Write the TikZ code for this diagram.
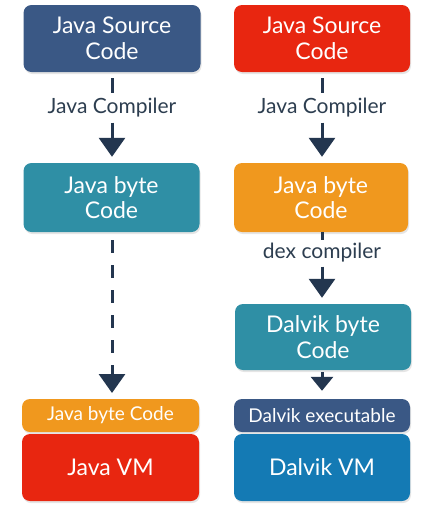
\documentclass[tikz,border=0pt]{standalone}
\usepackage{fontspec}
\setmainfont{Lato}
\usetikzlibrary{arrows.meta,shadows}
\definecolor{dblue}{RGB}{58,88,133}
\definecolor{jred}{RGB}{232,38,16}
\definecolor{teal1}{RGB}{47,143,165}
\definecolor{orng}{RGB}{240,152,30}
\definecolor{vblue}{RGB}{20,122,180}
\definecolor{arr}{RGB}{35,54,79}
\definecolor{lbl}{RGB}{45,62,80}
\begin{document}
\begin{tikzpicture}[x=1pt,y=-1pt,
  box/.style={rounded corners=8pt, text=white, align=center, inner sep=0pt,
    font=\fontsize{23}{25.5}\selectfont,
    drop shadow={opacity=0.2, shadow xshift=1pt, shadow yshift=-2pt}},
  smallbox/.style={box, font=\fontsize{19}{21}\selectfont},
  lab/.style={text=lbl, font=\fontsize{21}{24}\selectfont, inner sep=1pt},
  conn/.style={draw=arr, line width=3pt},
  tip/.style={-{Triangle[width=26pt,length=19pt]}},
  smalltip/.style={-{Triangle[width=22pt,length=14pt]}}]
\useasboundingbox (0,0) rectangle (426,531);
\fill[white] (0,0) rectangle (426,531);
% left column
\node[box, fill=dblue, minimum width=177pt, minimum height=67pt] (jscL) at (112,38.5) {Java Source\\Code};
\node[lab] (lblL) at (112,108) {Java Compiler};
\node[box, fill=teal1, minimum width=176pt, minimum height=69pt] (jbcL) at (111.5,197.5) {Java byte\\Code};
\node[smallbox, fill=orng, minimum width=177pt, minimum height=33pt] (jbsL) at (110.5,415.5) {Java byte Code};
\node[box, fill=jred, minimum width=177pt, minimum height=67pt] (jvm) at (110.5,467.5) {Java VM};
% right column
\node[box, fill=jred, minimum width=176pt, minimum height=67pt] (jscR) at (322,38.5) {Java Source\\Code};
\node[lab] (lblR) at (322,108) {Java Compiler};
\node[box, fill=orng, minimum width=174pt, minimum height=69pt] (jbcR) at (321,197.5) {Java byte\\Code};
\node[lab] (dex) at (322,253) {dex compiler};
\node[box, fill=teal1, minimum width=176pt, minimum height=66pt] (dbc) at (323,337) {Dalvik byte\\Code};
\node[smallbox, fill=dblue, minimum width=176pt, minimum height=33pt] (dexe) at (322,415.5) {Dalvik executable};
\node[box, fill=vblue, minimum width=176pt, minimum height=67pt] (dvm) at (322,467.5) {Dalvik VM};
% connectors left
\draw[conn, shorten <=6pt, shorten >=4pt] (jscL.south) -- (jscL.south |- lblL.north);
\draw[conn, tip, shorten <=4pt, shorten >=6pt] (jscL.south |- lblL.south) -- (jscL.south |- jbcL.north);
\draw[conn, tip, dash pattern=on 12.5pt off 12.5pt, shorten <=8pt, shorten >=6pt] (112,232) -- (112,399);
% connectors right
\draw[conn, shorten <=6pt, shorten >=4pt] (jscR.south) -- (jscR.south |- lblR.north);
\draw[conn, tip, shorten <=4pt, shorten >=6pt] (jscR.south |- lblR.south) -- (jscR.south |- jbcR.north);
\draw[conn, shorten >=2pt] (jscR.south |- jbcR.south) -- (jscR.south |- dex.north);
\draw[conn, tip, shorten <=3pt, shorten >=6pt] (jscR.south |- dex.south) -- (jscR.south |- dbc.north);
\draw[conn, smalltip, shorten <=2pt, shorten >=8pt] (jscR.south |- dbc.south) -- (jscR.south |- dexe.north);
\end{tikzpicture}
\end{document}
